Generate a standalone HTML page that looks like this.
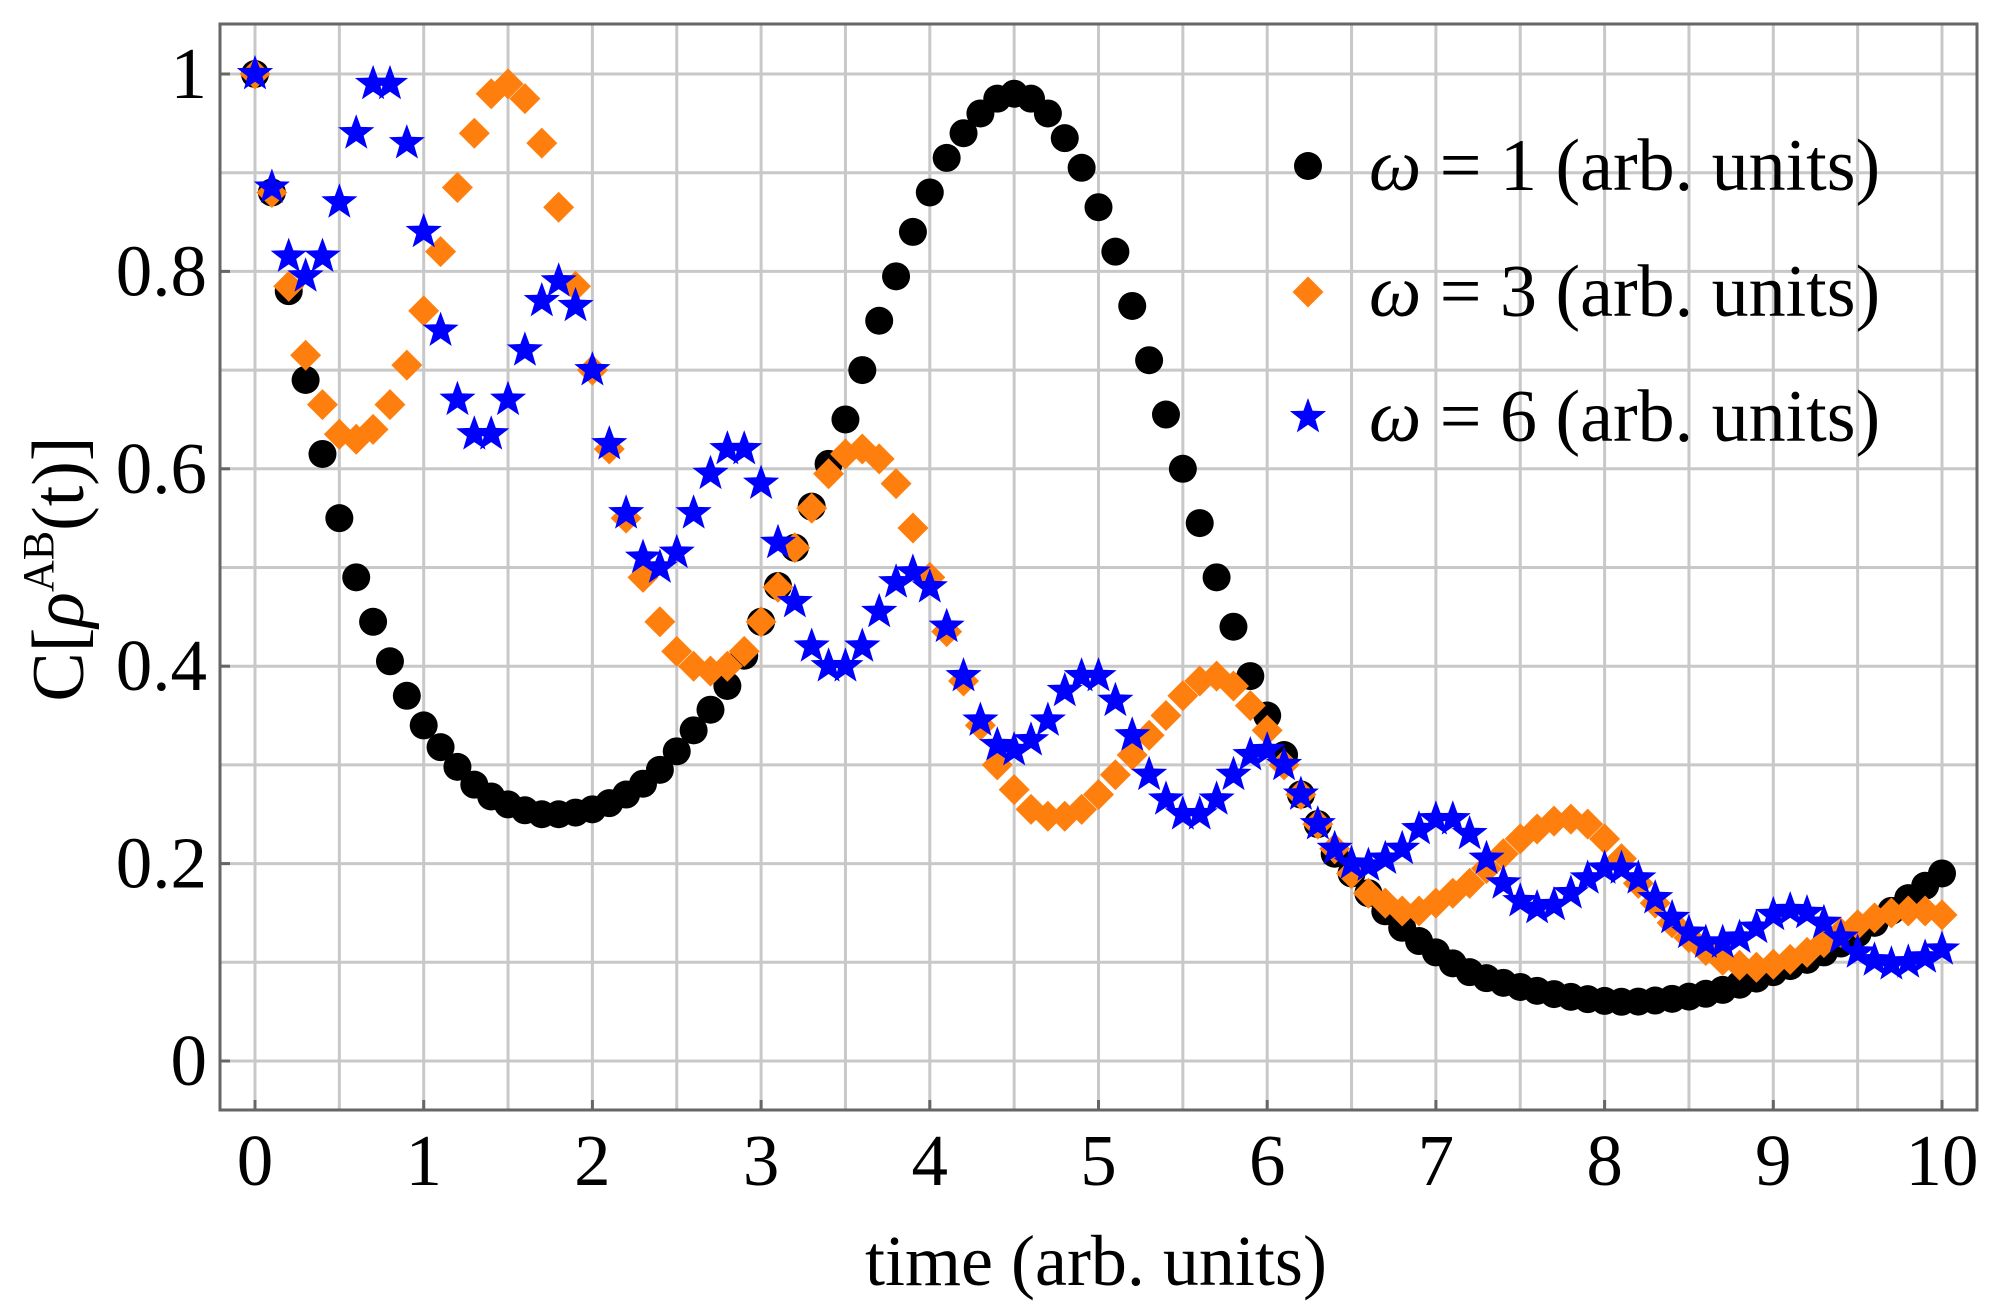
<!DOCTYPE html>
<html><head><meta charset="utf-8"><style>
html,body{margin:0;padding:0;background:#fff;}
svg{display:block;}
text{font-family:"Liberation Serif",serif;fill:#000;}
</style></head><body>
<svg id="s" width="2000" height="1314" xmlns="http://www.w3.org/2000/svg">
<rect width="2000" height="1314" fill="#fff"/>
<g id="grid" stroke="#c8c8c8" stroke-width="3"></g>
<g id="data"></g>
<rect x="220" y="24" width="1757" height="1086" fill="none" stroke="#666" stroke-width="3"/>
<g id="ticks" stroke="#666" stroke-width="3"></g>
<g id="labels" font-size="73"></g>
<text x="1096" y="1285" font-size="72" text-anchor="middle">time (arb. units)</text>
<text transform="translate(83,569) rotate(-90)" font-size="74" text-anchor="middle">C[<tspan font-style="italic">ρ</tspan><tspan dy="-30" font-size="44">AB</tspan><tspan dy="30">(t)]</tspan></text>
<g id="legend" font-size="74">
<text x="1369" y="190"><tspan font-style="italic">ω</tspan> = 1 (arb. units)</text>
<text x="1369" y="316"><tspan font-style="italic">ω</tspan> = 3 (arb. units)</text>
<text x="1369" y="441"><tspan font-style="italic">ω</tspan> = 6 (arb. units)</text>
</g>
</svg>
<script>
var NS="http://www.w3.org/2000/svg";
function X(t){return 255+t*168.7;}
function Y(v){return 1061-v*987;}
function el(p,n,a){var e=document.createElementNS(NS,n);for(var k in a)e.setAttribute(k,a[k]);p.appendChild(e);return e;}
var g=document.getElementById('grid');
for(var i=0;i<=20;i++){var x=X(i*0.5);el(g,'line',{x1:x,x2:x,y1:24,y2:1110});}
for(var i=0;i<=10;i++){var y=Y(i*0.1);el(g,'line',{x1:220,x2:1977,y1:y,y2:y});}
var tk=document.getElementById('ticks'),lb=document.getElementById('labels');
for(var i=0;i<=10;i++){var x=X(i);el(tk,'line',{x1:x,x2:x,y1:1110,y2:1100});var t=el(lb,'text',{x:x,y:1185,'text-anchor':'middle'});t.textContent=i;}
var yl=['0','0.2','0.4','0.6','0.8','1'];
for(var i=0;i<=5;i++){var y=Y(i*0.2);el(tk,'line',{x1:220,x2:230,y1:y,y2:y});var t=el(lb,'text',{x:207,y:y+24,'text-anchor':'end'});t.textContent=yl[i];}
function interp(pts){var out=[];for(var k=0;k<=100;k++){var t=k/10;var j=0;while(j<pts.length-2&&pts[j+1][0]<t-1e-9)j++;
var p1=pts[j],p2=pts[j+1],p0=pts[Math.max(0,j-1)],p3=pts[Math.min(pts.length-1,j+2)];
var u=(t-p1[0])/(p2[0]-p1[0]);var m1=(p2[1]-p0[1])/(p2[0]-p0[0]||1)*(p2[0]-p1[0]);var m2=(p3[1]-p1[1])/(p3[0]-p1[0]||1)*(p2[0]-p1[0]);
if(j==0)m1=(p2[1]-p1[1]);if(j+2>=pts.length)m2=(p2[1]-p1[1]);
var u2=u*u,u3=u2*u;var v=(2*u3-3*u2+1)*p1[1]+(u3-2*u2+u)*m1+(-2*u3+3*u2)*p2[1]+(u3-u2)*m2;out.push([t,v]);}return out;}
function P(a){var r=[];for(var i=0;i<a.length;i+=2)r.push([a[i],a[i+1]]);return r;}
var black=P([0,1,0.1,0.88,0.2,0.78,0.3,0.69,0.4,0.615,0.5,0.55,0.6,0.49,0.7,0.445,0.8,0.405,0.9,0.37,1.0,0.34,1.1,0.318,1.2,0.298,1.3,0.28,1.4,0.268,1.5,0.26,1.6,0.254,1.7,0.25,1.8,0.25,2.0,0.255,2.2,0.27,2.4,0.295,2.6,0.335,2.8,0.38,3.0,0.445,3.2,0.52,3.4,0.605,3.5,0.65,3.6,0.70,3.7,0.75,3.8,0.795,3.9,0.84,4.0,0.88,4.1,0.915,4.2,0.94,4.3,0.96,4.4,0.975,4.5,0.98,4.6,0.975,4.7,0.96,4.8,0.935,4.9,0.905,5.0,0.865,5.1,0.82,5.2,0.765,5.3,0.71,5.4,0.655,5.5,0.6,5.6,0.545,5.7,0.49,5.8,0.44,5.9,0.39,6.0,0.35,6.1,0.31,6.2,0.27,6.3,0.24,6.4,0.21,6.5,0.19,6.6,0.17,6.8,0.135,7.0,0.11,7.2,0.09,7.5,0.075,7.8,0.065,8.1,0.06,8.4,0.063,8.7,0.072,9.0,0.09,9.3,0.11,9.6,0.14,9.8,0.165,10,0.19]);
var orange=P([0,1,0.1,0.88,0.2,0.785,0.3,0.715,0.4,0.665,0.5,0.635,0.6,0.63,0.7,0.64,0.8,0.665,0.9,0.705,1.0,0.76,1.1,0.82,1.2,0.885,1.3,0.94,1.4,0.98,1.5,0.99,1.6,0.975,1.7,0.93,1.8,0.865,1.9,0.785,2.0,0.70,2.1,0.62,2.2,0.55,2.3,0.49,2.4,0.445,2.5,0.415,2.6,0.40,2.7,0.395,2.8,0.40,2.9,0.415,3.0,0.445,3.1,0.48,3.2,0.52,3.3,0.56,3.4,0.595,3.5,0.615,3.6,0.62,3.7,0.61,3.8,0.585,3.9,0.54,4.0,0.49,4.1,0.435,4.2,0.385,4.3,0.34,4.4,0.30,4.5,0.275,4.6,0.255,4.7,0.248,4.8,0.248,4.9,0.255,5.0,0.27,5.1,0.29,5.2,0.31,5.3,0.33,5.4,0.35,5.5,0.37,5.6,0.385,5.7,0.39,5.8,0.38,5.9,0.36,6.0,0.335,6.1,0.30,6.2,0.27,6.3,0.24,6.4,0.215,6.5,0.19,6.6,0.17,6.7,0.16,6.8,0.152,6.9,0.152,7.0,0.16,7.1,0.17,7.2,0.18,7.3,0.195,7.4,0.21,7.5,0.225,7.6,0.235,7.7,0.243,7.8,0.245,7.9,0.24,8.0,0.225,8.1,0.205,8.2,0.18,8.3,0.16,8.4,0.14,8.5,0.125,8.6,0.112,8.7,0.102,8.8,0.097,8.9,0.095,9.0,0.098,9.1,0.103,9.2,0.11,9.3,0.12,9.4,0.13,9.5,0.138,9.6,0.145,9.7,0.15,9.8,0.152,9.9,0.152,10,0.148]);
var blue=P([0,1,0.1,0.885,0.2,0.815,0.3,0.795,0.4,0.815,0.5,0.87,0.6,0.94,0.7,0.99,0.8,0.99,0.9,0.93,1.0,0.84,1.1,0.74,1.2,0.67,1.3,0.635,1.4,0.635,1.5,0.67,1.6,0.72,1.7,0.77,1.8,0.79,1.9,0.765,2.0,0.70,2.1,0.625,2.2,0.555,2.3,0.51,2.4,0.50,2.5,0.515,2.6,0.555,2.7,0.595,2.8,0.62,2.9,0.62,3.0,0.585,3.1,0.525,3.2,0.465,3.3,0.42,3.4,0.40,3.5,0.40,3.6,0.42,3.7,0.455,3.8,0.485,3.9,0.495,4.0,0.48,4.1,0.44,4.2,0.39,4.3,0.345,4.4,0.32,4.5,0.315,4.6,0.325,4.7,0.345,4.8,0.375,4.9,0.39,5.0,0.39,5.1,0.365,5.2,0.33,5.3,0.29,5.4,0.265,5.5,0.25,5.6,0.25,5.7,0.265,5.8,0.29,5.9,0.31,6.0,0.315,6.1,0.30,6.2,0.27,6.3,0.24,6.4,0.215,6.5,0.2,6.6,0.198,6.7,0.205,6.8,0.215,6.9,0.235,7.0,0.245,7.1,0.245,7.2,0.23,7.3,0.205,7.4,0.18,7.5,0.162,7.6,0.155,7.7,0.158,7.8,0.17,7.9,0.185,8.0,0.195,8.1,0.195,8.2,0.185,8.3,0.165,8.4,0.145,8.5,0.13,8.6,0.12,8.7,0.12,8.8,0.125,8.9,0.135,9.0,0.148,9.1,0.153,9.2,0.15,9.3,0.14,9.4,0.125,9.5,0.11,9.6,0.102,9.7,0.098,9.8,0.1,9.9,0.105,10,0.113]);
var d=document.getElementById('data');
function circ(p,x,y){el(p,'circle',{cx:x,cy:y,r:14,fill:'#000'});}
function dia(p,x,y){var r=15.5;el(p,'polygon',{points:(x)+','+(y-r)+' '+(x+r)+','+y+' '+x+','+(y+r)+' '+(x-r)+','+y,fill:'#ff7f0e'});}
function star(p,x,y){var R=19,r=7.8,s='';for(var i=0;i<10;i++){var a=-Math.PI/2+i*Math.PI/5;var rr=i%2?r:R;s+=(x+rr*Math.cos(a)).toFixed(1)+','+(y+rr*Math.sin(a)).toFixed(1)+' ';}el(p,'polygon',{points:s,fill:'#0000ff'});}
interp(black).forEach(function(q){circ(d,X(q[0]),Y(q[1]));});
interp(orange).forEach(function(q){dia(d,X(q[0]),Y(q[1]));});
interp(blue).forEach(function(q){star(d,X(q[0]),Y(q[1]));});
var lg=document.getElementById('legend');
circ(lg,1308,166);dia(lg,1308,292);star(lg,1308,417);
</script>
</body></html>
